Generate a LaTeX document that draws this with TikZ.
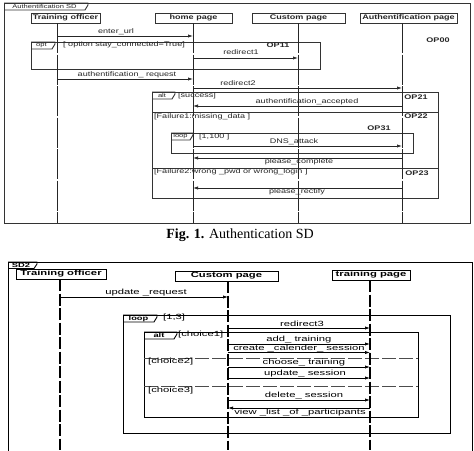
\documentclass[tikz,border=0pt]{standalone}
\usepackage{fontspec}
\usetikzlibrary{arrows.meta}
\newfontfamily\dA[FakeStretch=1.35]{Liberation Sans}
\newfontfamily\dB[FakeStretch=1.5]{Liberation Sans}
\newfontfamily\capf{Liberation Serif}
% #1 name, #2 x0, #3 y0, #4 x1, #5 y1, #6 line style, #7 text style, #8 text
\newcommand\fragtab[8]{%
  \draw[#6] (#2,#3) -- (#4,#3) -- (#4,{#3+2}) -- ({#4-3},#5) -- (#2,#5);
  \node[#7] (#1) at ({(#2+#4)/2-1.5},{(#3+#5)/2}) {#8};
}
\begin{document}
\begin{tikzpicture}[x=1pt,y=-1pt,
  fa/.style={font=\dA\fontsize{6.7}{7}\selectfont, inner sep=0pt, text=black!85},
  fab/.style={font=\dA\bfseries\fontsize{6.7}{7}\selectfont, inner sep=0pt, text=black!85},
  fat/.style={font=\dA\fontsize{5.6}{6}\selectfont, inner sep=0pt, text=black!85},
  fb/.style={font=\dB\fontsize{7.5}{8}\selectfont, inner sep=0pt},
  fbb/.style={font=\dB\bfseries\fontsize{7.5}{8}\selectfont, inner sep=0pt},
  fbt/.style={font=\dB\bfseries\fontsize{6.2}{7}\selectfont, inner sep=0pt},
  lnA/.style={draw=black!80, line width=0.9pt},
  lnB/.style={draw=black, line width=0.9pt},
  headA/.style={lnA, fab, minimum height=10pt, inner sep=0pt},
  headB/.style={lnB, fbb, minimum height=10pt, inner sep=0pt},
  lifeA/.style={draw=black!85, line width=1pt, dash pattern=on 30pt off 1.5pt},
  lifeB/.style={draw=black, line width=1.1pt, dash pattern=on 12pt off 2.5pt},
  msgA/.style={draw=black!85, line width=0.7pt, -{Latex[length=5pt,width=3.2pt]}},
  msgB/.style={draw=black, line width=0.7pt, -{Latex[length=5pt,width=3.2pt]}},
  divA/.style={draw=black!80, line width=0.8pt},
  divB/.style={draw=black!70, line width=0.8pt, dash pattern=on 14pt off 3pt},
]
\useasboundingbox (0,0) rectangle (474,450);
\fill[white] (0,0) rectangle (474,450);

%% ================= Diagram 1 =================
\draw[lnA] (4,3) rectangle (470,223);
\fragtab{tabA}{4}{3}{88}{10}{lnA}{fat}{Authentification SD}

\node[headA, minimum width=69] (TO) at (65.5,18) {Training officer};
\node[headA, minimum width=77] (HP) at (193.5,18) {home page};
\node[headA, minimum width=93] (CP) at (298.5,18) {Custom page};
\node[headA, minimum width=97] (AP) at (408.5,18) {Authentification page};

\coordinate (lTO) at (57,23);
\coordinate (lHP) at (193,23);
\coordinate (lCP) at (298,23);
\coordinate (lAP) at (402,23);

% fragments
\draw[lnA] (31,42) rectangle (320,69);
\fragtab{tabOpt}{31}{42}{55}{49}{lnA}{fat}{opt}
\node[fa, anchor=west] (gOpt) at (63,44.5) {[ option stay\_connected=True]};
\node[fab] (op11) at (278,45) {OP11};
\node[fab] (op00) at (438,40) {OP00};

\draw[lnA] (152,92) rectangle (438,198);
\fragtab{tabAlt}{152}{92}{175}{99}{lnA}{fat}{alt}
\node[fa, anchor=west] (gSucc) at (178,96) {[success]};
\node[fab] (op21) at (416,97) {OP21};
\draw[divA] (152,112) -- (438,112);
\node[fa, anchor=west] (gF1) at (154,117) {[Failure1:missing\_data ]};
\node[fab] (op22) at (416,116) {OP22};
\node[fab] (op31) at (379,128) {OP31};
\draw[lnA] (171,133) rectangle (413,153);
\fragtab{tabLoop}{171}{133}{193}{140}{lnA}{fat}{loop}
\node[fa, anchor=west] (gLoop) at (199,136.5) {[1,100 ]};
\draw[divA] (152,168) -- (438,168);
\node[fa, anchor=west] (gF2) at (154,171.5) {[Failure2:wrong \_pwd or wrong\_login ]};
\node[fab] (op23) at (417,173) {OP23};

% lifelines
\draw[lifeA] (lTO) -- (lTO |- 0,223);
\draw[lifeA] (lHP) -- (lHP |- 0,223);
\draw[lifeA] (lCP) -- (lCP |- 0,223);
\draw[lifeA] (lAP) -- (lAP |- 0,223);

% messages
\draw[msgA] (lTO |- 0,36) -- (lHP |- 0,36);
\node[fa] (m1) at (116,32) {enter\_url};
\draw[msgA] (lHP |- 0,58) -- (lCP |- 0,58);
\node[fa] (m2) at (241,52.5) {redirect1};
\draw[msgA] (lTO |- 0,79) -- (lHP |- 0,79);
\node[fa] (m3) at (127,75) {authentification\_ request};
\draw[msgA] (lHP |- 0,88) -- (lAP |- 0,88);
\node[fa] (m4) at (238,83.5) {redirect2};
\draw[msgA] (lAP |- 0,106) -- (lHP |- 0,106);
\node[fa] (m5) at (307,101.5) {authentification\_accepted};
\draw[msgA] (lHP |- 0,146) -- (lAP |- 0,146);
\node[fa] (m6) at (294,141.5) {DNS\_attack};
\draw[msgA] (lAP |- 0,158) -- (lHP |- 0,158);
\node[fa] (m7) at (299,161.8) {please\_complete};
\draw[msgA] (lAP |- 0,188) -- (lHP |- 0,188);
\node[fa] (m8) at (297,191.8) {please\_rectify};

% caption
\node[font=\capf\fontsize{14}{16}\selectfont, inner sep=0pt] (cap) at (240,235) {\textbf{Fig. 1.} Authentication SD};

%% ================= Diagram 2 =================
\draw[lnB] (8,470) -- (8,262) -- (472,262) -- (472,470);
\fragtab{tabSD}{8}{262}{37}{268.5}{lnB}{fbt}{SD2}

\node[headB, minimum width=90] (TO2) at (61,274) {Training officer};
\node[headB, minimum width=103] (CP2) at (226.5,276) {Custom page};
\node[headB, minimum width=78] (TP2) at (371,275) {training page};

\coordinate (lTO2) at (60,279);
\coordinate (lCP2) at (228,281);
\coordinate (lTP2) at (370,280);

\draw[lnB] (123,315) rectangle (450,433);
\fragtab{tabLoop2}{123}{315}{157}{322}{lnB}{fbt}{loop}
\node[fb, anchor=west] (gL2) at (163,318) {[1,3]};

\draw[lnB] (144,332) rectangle (418,417);
\fragtab{tabAlt2}{144}{332}{177}{339}{lnB}{fbt}{alt}
\node[fb, anchor=west] (gC1) at (178,335) {[choice1]};
\draw[divB] (144,358) -- (418,358);
\node[fb, anchor=west] (gC2) at (148,362) {[choice2]};
\draw[divB] (144,386) -- (418,386);
\node[fb, anchor=west] (gC3) at (148,391) {[choice3]};

\draw[lifeB] (lTO2) -- (lTO2 |- 0,450);
\draw[lifeB] (lCP2) -- (lCP2 |- 0,450);
\draw[lifeB] (lTP2) -- (lTP2 |- 0,450);

\draw[msgB] (lTO2 |- 0,297) -- (lCP2 |- 0,297);
\node[fb] (n1) at (146,293) {update \_request};
\draw[msgB] (lCP2 |- 0,328) -- (lTP2 |- 0,328);
\node[fb] (n2) at (302,324) {redirect3};
\draw[msgB] (lCP2 |- 0,344) -- (lTP2 |- 0,344);
\node[fb] (n3) at (299,340) {add\_ training};
\draw[msgB] (lCP2 |- 0,352.5) -- (lTP2 |- 0,352.5);
\node[fb] (n4) at (299,348.6) {create \_calender\_ session};
\draw[msgB] (lCP2 |- 0,367) -- (lTP2 |- 0,367);
\node[fb] (n5) at (304,363) {choose\_ training};
\draw[msgB] (lCP2 |- 0,378) -- (lTP2 |- 0,378);
\node[fb] (n6) at (305,374) {update\_ session};
\draw[msgB] (lCP2 |- 0,400) -- (lTP2 |- 0,400);
\node[fb] (n7) at (304,396) {delete\_ session};
\draw[msgB] (lTP2 |- 0,408) -- (lCP2 |- 0,408);
\node[fb] (n8) at (300,412.5) {view \_list \_of \_participants};
\end{tikzpicture}
\end{document}
